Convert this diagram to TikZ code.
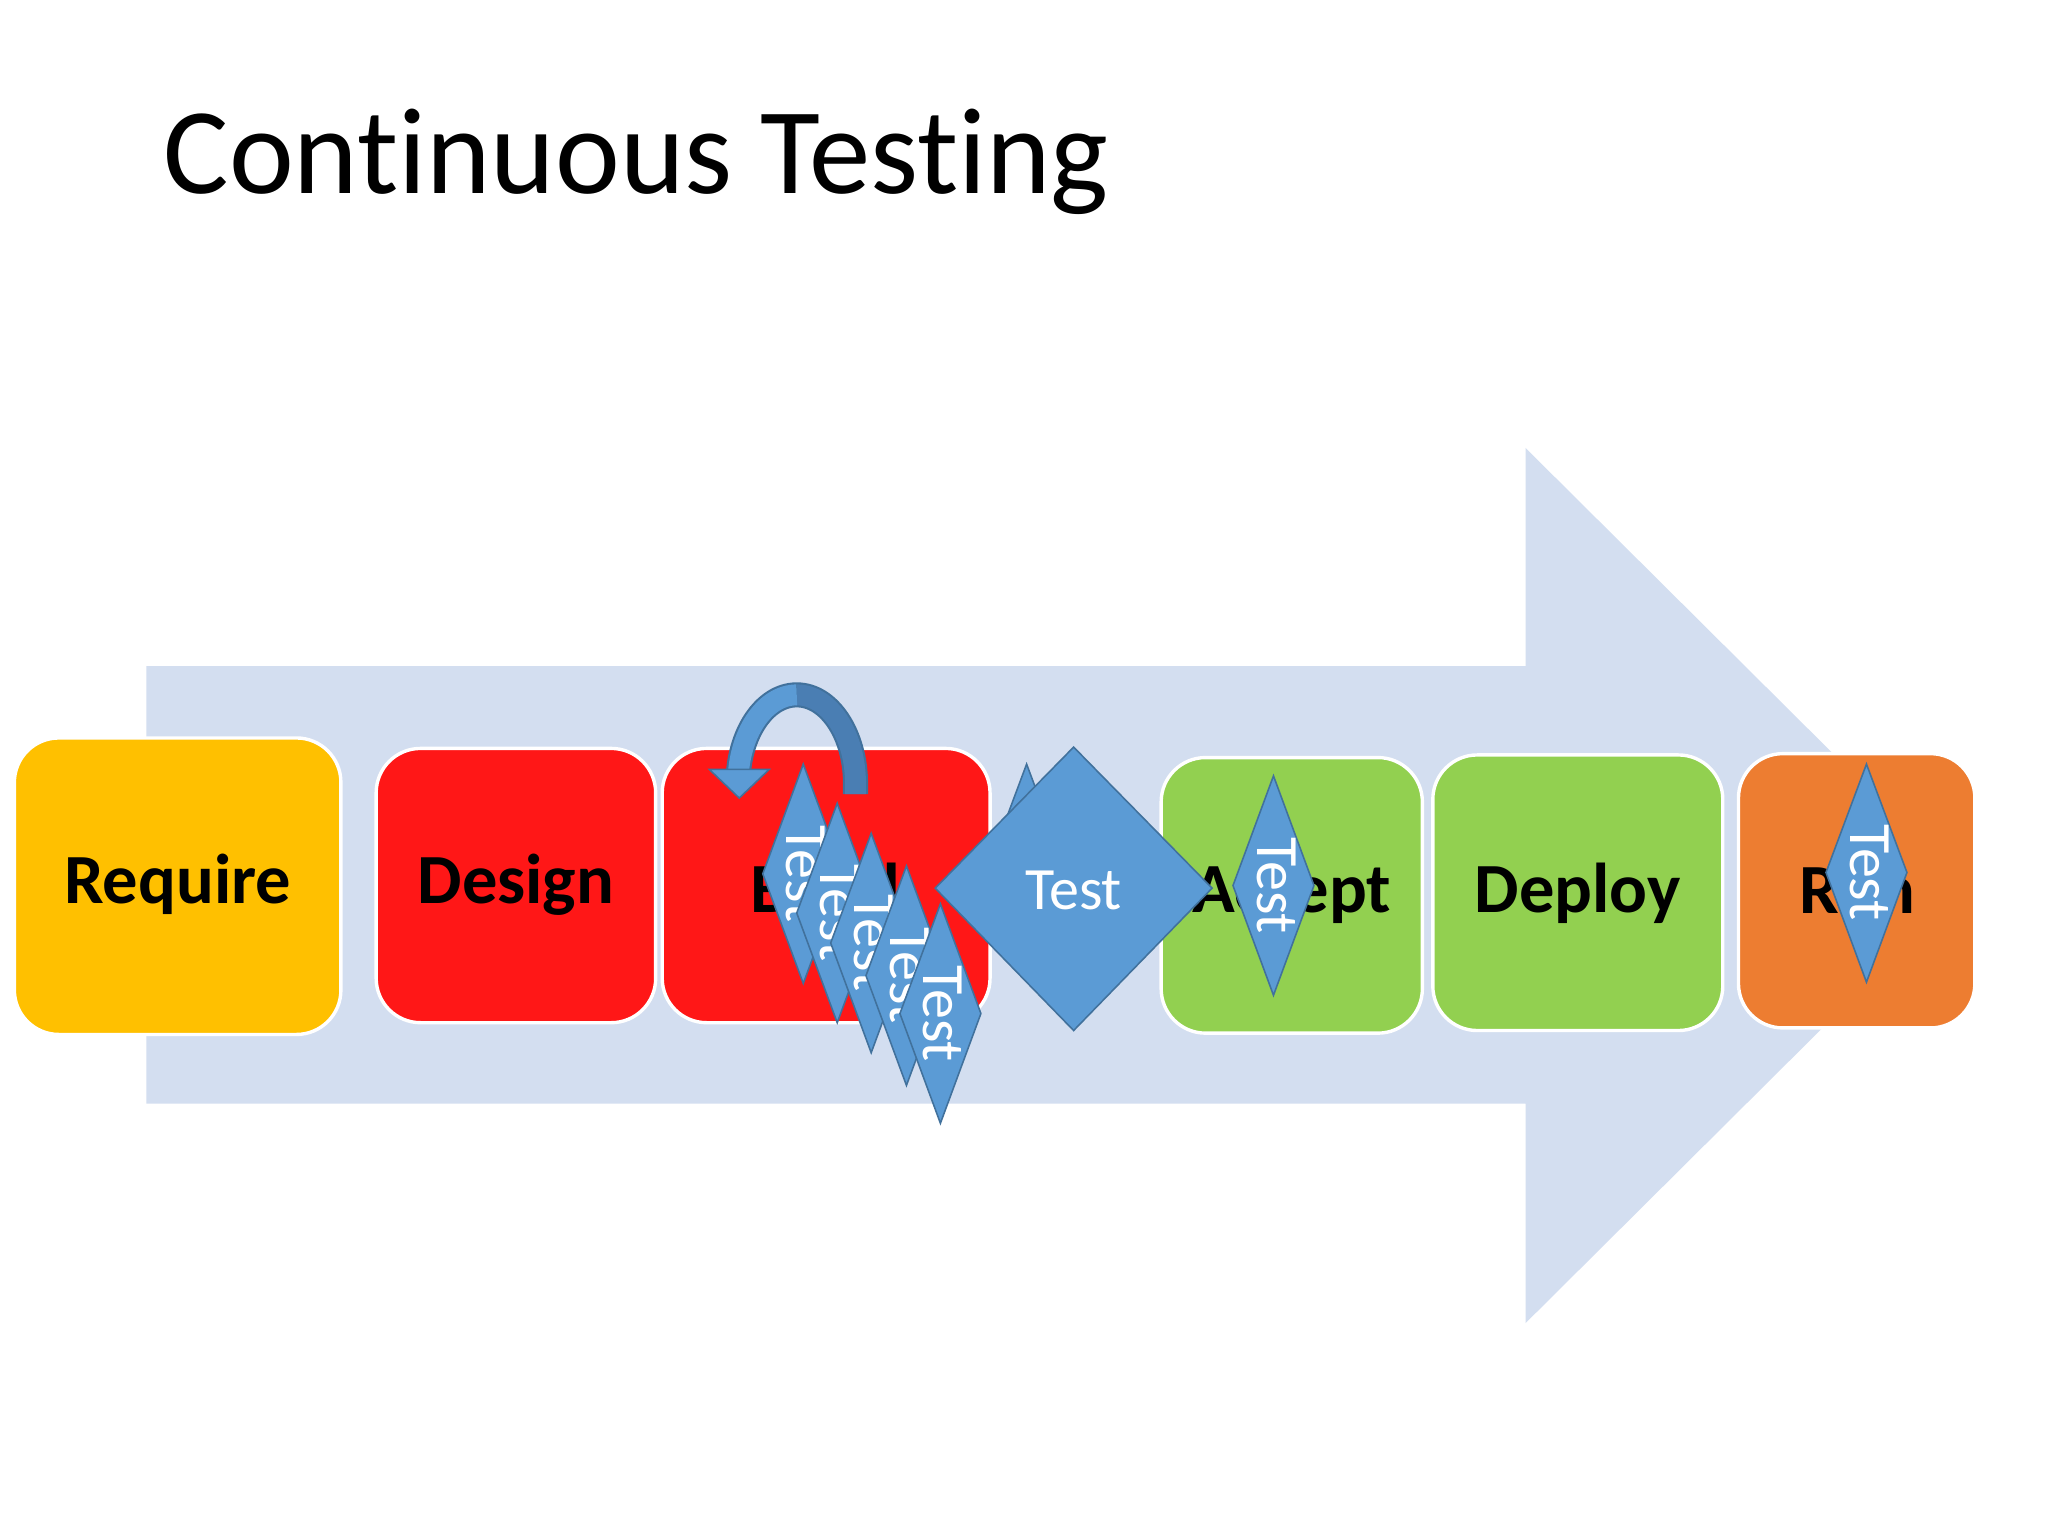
\documentclass[tikz,border=0pt]{standalone}
\usepackage{fontspec}
\setmainfont[Ligatures=NoCommon]{Carlito}
\begin{document}
\begin{tikzpicture}[x=0.5pt,y=-0.5pt]
\definecolor{arrowbg}{HTML}{D3DEF0}
\definecolor{tblue}{HTML}{5B9BD5}
\definecolor{tdark}{HTML}{41719C}
\definecolor{tshade}{HTML}{4A7EB3}
\definecolor{cyel}{HTML}{FFC000}
\definecolor{cred}{HTML}{FF1717}
\definecolor{cgreen}{HTML}{92D050}
\definecolor{corange}{HTML}{ED7D31}
\tikzset{
  stage/.style={draw=white,line width=1.3pt,rounded corners=17pt},
  stagelabel/.style={font=\bfseries\fontsize{27}{30}\selectfont,text=black},
  diam/.style={fill=tblue,draw=tdark,line width=0.6pt},
  tlabel/.style={font=\fontsize{23}{26}\selectfont,text=white,rotate=-90},
}
\useasboundingbox (0,0) rectangle (1568,1176);
\fill[white] (0,0) rectangle (1568,1176);
\node[anchor=base west,font=\fontsize{47}{53}\selectfont,inner sep=0pt] (title) at (125,148) {Continuous Testing};
% big arrow
\fill[arrowbg] (112,510) -- (1168,510) -- (1168,343) -- (1505,678) -- (1168,1013) -- (1168,845) -- (112,845) -- cycle;
% stages
\filldraw[fill=cyel,stage] (11,565) rectangle (261,792);
\node[stagelabel] (req) at (136,677) {Require};
\filldraw[fill=cred,stage] (288,573) rectangle (502,783);
\node[stagelabel] (des) at (395,677) {Design};
\filldraw[fill=cred,stage] (507,573) rectangle (758,783);
\node[stagelabel] (bui) at (632,680) {Build};
\filldraw[fill=cgreen,stage] (889,580) rectangle (1089,791);
\node[stagelabel] (acc) at (989,685) {Accept};
\filldraw[fill=cgreen,stage] (1097,578) rectangle (1319,789);
\node[stagelabel] (dep) at (1208,684) {Deploy};
\filldraw[fill=corange,stage] (1331,577) rectangle (1512,787);
\node[stagelabel] (run) at (1422,682) {Run};
% curved arrow
\draw[tdark,line width=9.6pt] (655,608) -- (655,600) arc[start angle=0,end angle=-180,x radius=45,y radius=68] -- (565,592);
\draw[tshade,line width=8pt] (655,608) -- (655,600) arc[start angle=0,end angle=-90,x radius=45,y radius=68];
\draw[tblue,line width=8pt] (610,532) arc[start angle=-90,end angle=-180,x radius=45,y radius=68] -- (565,592);
\filldraw[diam] (543,589) -- (589,589) -- (566,611) -- cycle;
% hidden diamond
\filldraw[diam] (786,585) -- (817,668) -- (786,751) -- (755,668) -- cycle;
% stack
\foreach \i/\cx/\cy in {1/615/669,2/641/699,3/667/722,4/694/747,5/720/776}{
  \filldraw[diam] (\cx,\cy-84) -- (\cx+31,\cy) -- (\cx,\cy+84) -- (\cx-31,\cy) -- cycle;
  \node[tlabel] (s\i) at (\cx+2,\cy) {Test};
}
% big diamond
\filldraw[diam] (822,572) -- (928,680) -- (822,789) -- (716,680) -- cycle;
\node[font=\fontsize{23}{26}\selectfont,text=white] (big) at (822,682) {Test};
% accept diamond
\filldraw[diam] (975,594) -- (1006,678) -- (975,762) -- (944,678) -- cycle;
\node[tlabel] (ta) at (977,678) {Test};
% run diamond
\filldraw[diam] (1429,585) -- (1460,668) -- (1429,752) -- (1398,668) -- cycle;
\node[tlabel] (tr) at (1431,668) {Test};
\end{tikzpicture}
\end{document}
